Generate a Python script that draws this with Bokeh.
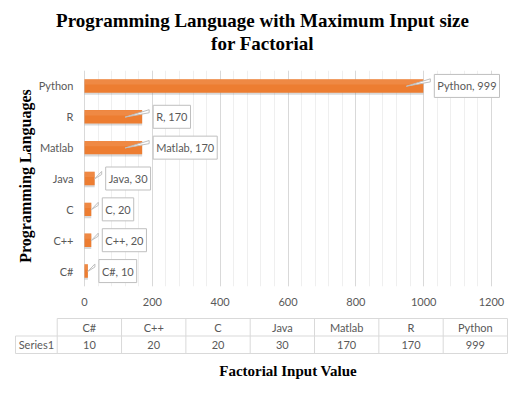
import math
from bokeh.plotting import figure
from bokeh.models import Range1d, FixedTicker, ColumnDataSource
from bokeh.layouts import column
from bokeh.transform import dodge
from bokeh.embed import file_html
from bokeh.resources import INLINE
from bokeh.core.properties import value

# ---------------- data ----------------
languages = ["C#", "C++", "C", "Java", "Matlab", "R", "Python"]
max_input = [10, 20, 20, 30, 170, 170, 999]
x_ticks = [0, 200, 400, 600, 800, 1000, 1200]
series_name = "Series1"
title_lines = ["Programming Language with Maximum Input size", "for Factorial"]
x_title = "Factorial Input Value"
y_title = "Programming Languages"

# ---------------- style / layout ----------------
ORANGE = "#ED7D31"
TXT = "#595959"
SANS = "Lato"
SERIF = "Liberation Serif"
GRID_MAJOR = "#D9D9D9"
GRID_MINOR = "#EFEFEF"
BOX_LINE = "#BFBFBF"

W = 521
BL, BR = 14, 13            # common left/right borders -> frames span px 14..508
FRAME_W = W - BL - BR      # 494
PLOT_L, PLOT_R = 84, 491   # pixel positions of the value axis 0 and max
n = len(languages)
idx = list(range(n))
x_lo, x_hi = x_ticks[0], x_ticks[-1]
u = (x_hi - x_lo) / (PLOT_R - PLOT_L)     # data units per pixel

def common(fig):
    fig.outline_line_color = None
    fig.background_fill_color = "white"
    fig.border_fill_color = "white"

# ---------------- header (title) ----------------
h = figure(width=W, height=62, output_backend="svg", toolbar_location=None,
           x_range=Range1d(0, FRAME_W), y_range=Range1d(0, 62),
           x_axis_type=None, y_axis_type=None,
           min_border_left=BL, min_border_right=BR, min_border_top=0, min_border_bottom=0)
common(h)
h.grid.visible = False
h.text(x=[262 - BL, 262 - BL], y=[62 - 20, 62 - 43], text=title_lines,
       text_align="center", text_baseline="middle", text_font=value(SERIF),
       text_font_style="bold", text_font_size="19px", text_color="black")

# ---------------- bar chart ----------------
p = figure(width=W, height=250, output_backend="svg", toolbar_location=None,
           x_range=Range1d(x_lo - (PLOT_L - BL) * u, x_hi + (W - BR - PLOT_R) * u),
           y_range=Range1d(-0.5, n - 0.5), y_axis_type=None,
           min_border_left=BL, min_border_right=BR, min_border_top=8, min_border_bottom=26)
common(p)

step = x_ticks[1] - x_ticks[0]
minor = [x_lo + k * step / 5 for k in range(int((x_hi - x_lo) / (step / 5)) + 1)]
ticker = FixedTicker(ticks=x_ticks, minor_ticks=minor)
p.xaxis.ticker = ticker
p.xaxis.axis_line_color = None
p.xaxis.major_tick_line_color = None
p.xaxis.minor_tick_line_color = None
p.xaxis.major_label_text_font = SANS
p.xaxis.major_label_text_font_size = "11px"
p.xaxis.major_label_text_color = TXT
p.xaxis.major_label_standoff = 5
p.xgrid.ticker = ticker
p.xgrid.grid_line_color = GRID_MAJOR
p.xgrid.minor_grid_line_color = GRID_MINOR
p.ygrid.visible = False

labels = [f"{l}, {v}" for l, v in zip(languages, max_input)]
src = ColumnDataSource(dict(y=idx, value=max_input, label=labels, cat=languages,
                            zero=[x_lo] * n))

# shadow + bars (with light top sheen)
p.hbar(y=dodge("y", -0.07, range=p.y_range), left="zero", right="value", height=0.43,
       fill_color="#808080", fill_alpha=0.3, line_color=None, source=src)
p.hbar(y="y", left="zero", right="value", height=0.435, fill_color=ORANGE,
       line_color=None, source=src)
p.hbar(y=dodge("y", 0.13, range=p.y_range), left="zero", right="value", height=0.17,
       fill_color="#F4A06A", fill_alpha=0.35, line_color=None, source=src)

# category labels (value axis origin)
p.text(x="zero", y="y", text="cat", source=src, x_offset=-11,
       text_align="right", text_baseline="middle",
       text_font=value(SANS), text_font_size="11px", text_color=TXT)

# callout pointers
xs, ys = [], []
for i, v in zip(idx, max_input):
    tip = v - 17 * u if v > 100 else v
    base = v + 7 * u
    xs.append([tip, base, base])
    ys.append([i - 0.01, i + 0.23, i + 0.13])
p.patches(xs, ys, fill_color="white", line_color=BOX_LINE, line_width=1)

# data labels
p.text(x="value", y="y", text="label", source=src, x_offset=11,
       text_align="left", text_baseline="middle",
       text_font=value(SANS), text_font_size="11px", text_color=TXT,
       background_fill_color="white", border_line_color=BOX_LINE,
       padding=(3, 5))

# y-axis title
p.text(x=[x_lo - (PLOT_L - 25) * u], y=[(n - 1) / 2 + 0.08], text=[y_title], angle=math.pi / 2,
       text_align="center", text_baseline="middle", text_font=value(SERIF),
       text_font_style="bold", text_font_size="16px", text_color="black")

# ---------------- data table ----------------
COL_W = 64.3
ROW_H = 17.5
hdr_left = -41.7 / COL_W
TOP_Y, BOT_Y = 318 - 312, 353 - 312    # table top/bottom inside this 84px-high canvas
t = figure(width=W, height=84, output_backend="svg", toolbar_location=None,
           x_range=Range1d(hdr_left - 1 / COL_W, n + 1 / COL_W),
           y_range=Range1d(-(84 - BOT_Y) / ROW_H, 2 + TOP_Y / ROW_H),
           x_axis_type=None, y_axis_type=None,
           min_border_left=BL, min_border_right=BR, min_border_top=0, min_border_bottom=0)
common(t)
t.grid.visible = False

t.segment(x0=[0, hdr_left, hdr_left], y0=[2, 1, 0], x1=[n, n, n], y1=[2, 1, 0],
          line_color=GRID_MAJOR, line_width=1)
vx = [hdr_left] + list(range(n + 1))
t.segment(x0=vx, y0=[0] * len(vx), x1=vx, y1=[1] + [2] * (n + 1),
          line_color=GRID_MAJOR, line_width=1)

tsrc = ColumnDataSource(dict(x=[i + 0.5 for i in idx], cat=languages,
                             val=[str(v) for v in max_input]))
t.text(x="x", y=1.5, text="cat", source=tsrc, text_align="center", text_baseline="middle",
       text_font=value(SANS), text_font_size="11px", text_color=TXT)
t.text(x="x", y=0.5, text="val", source=tsrc, text_align="center", text_baseline="middle",
       text_font=value(SANS), text_font_size="11px", text_color=TXT)
t.text(x=[hdr_left / 2], y=[0.5], text=[series_name], text_align="center",
       text_baseline="middle", text_font=value(SANS), text_font_size="11px", text_color=TXT)

# x-axis title (centred on the plot area)
t.text(x=[((PLOT_L + PLOT_R) / 2 - 56.7) / COL_W], y=[-(370 - 353) / ROW_H], text=[x_title],
       text_align="center", text_baseline="middle", text_font=value(SERIF),
       text_font_style="bold", text_font_size="15px", text_color="black")

layout = column(h, p, t, spacing=0)
open("out.html", "w").write(file_html(layout, INLINE))
